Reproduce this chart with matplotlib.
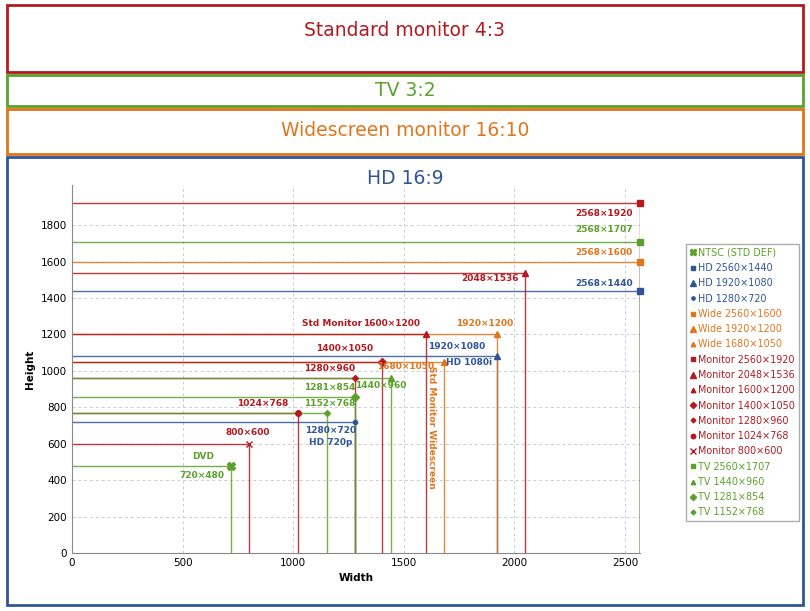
import matplotlib
matplotlib.use("Agg")
import matplotlib.pyplot as plt
from matplotlib.patches import Rectangle
from matplotlib.lines import Line2D

RED = "#b3191f"; BLUE = "#2f5597"; ORANGE = "#e0761c"; GREEN = "#5ba12b"

names = ["NTSC (STD DEF)", "HD 2560×1440", "HD 1920×1080", "HD 1280×720",
         "Wide 2560×1600", "Wide 1920×1200", "Wide 1680×1050",
         "Monitor 2560×1920", "Monitor 2048×1536", "Monitor 1600×1200",
         "Monitor 1400×1050", "Monitor 1280×960", "Monitor 1024×768", "Monitor 800×600",
         "TV 2560×1707", "TV 1440×960", "TV 1281×854", "TV 1152×768"]
widths = [720, 2568, 1920, 1280, 2568, 1920, 1680, 2568, 2048, 1600, 1400, 1280, 1024, 800,
          2568, 1440, 1281, 1152]
heights = [480, 1440, 1080, 720, 1600, 1200, 1050, 1920, 1536, 1200, 1050, 960, 768, 600,
           1707, 960, 854, 768]
colors = [GREEN, BLUE, BLUE, BLUE, ORANGE, ORANGE, ORANGE, RED, RED, RED, RED, RED, RED, RED,
          GREEN, GREEN, GREEN, GREEN]
markers = ["X", "s", "^", "o", "s", "^", "^", "s", "^", "^", "D", "D", "o", "x",
           "s", "^", "D", "D"]
msizes = [6, 4, 5, 3, 4, 5, 4, 4, 5, 4, 4, 3, 4, 5, 4, 4, 4, 3]

# annotation texts (x, y in data units, color, ha, rotation)
labels = [
    ("2568×1920", 2536, 1866, RED, "right", 0),
    ("2568×1707", 2536, 1773, GREEN, "right", 0),
    ("2568×1600", 2536, 1647, ORANGE, "right", 0),
    ("2048×1536", 2022, 1509, RED, "right", 0),
    ("2568×1440", 2536, 1482, BLUE, "right", 0),
    ("Std Monitor", 1178, 1262, RED, "center", 0),
    ("1600×1200", 1444, 1262, RED, "center", 0),
    ("1920×1200", 1864, 1262, ORANGE, "center", 0),
    ("1920×1080", 1737, 1131, BLUE, "center", 0),
    ("HD 1080i", 1796, 1048, BLUE, "center", 0),
    ("1400×1050", 1232, 1120, RED, "center", 0),
    ("1280×960", 1164, 1015, RED, "center", 0),
    ("1680×1050", 1507, 1021, ORANGE, "center", 0),
    ("Std Monitor Widescreen", 1625, 692, ORANGE, "center", 270),
    ("1440×960", 1394, 922, GREEN, "center", 0),
    ("1281×854", 1164, 911, GREEN, "center", 0),
    ("1152×768", 1164, 818, GREEN, "center", 0),
    ("1024×768", 862, 823, RED, "center", 0),
    ("1280×720", 1169, 675, BLUE, "center", 0),
    ("HD 720p", 1169, 609, BLUE, "center", 0),
    ("800×600", 794, 659, RED, "center", 0),
    ("DVD", 591, 532, GREEN, "center", 0),
    ("720×480", 587, 423, GREEN, "center", 0),
]

fig = plt.figure(figsize=(8.1, 6.11), dpi=100)
W, H = 810, 611
def box(y0, y1, color):
    fig.patches.append(Rectangle((7/W, 1 - y1/H), (803-7)/W, (y1-y0)/H, transform=fig.transFigure,
                                 fill=False, edgecolor=color, lw=2))
box(5, 72, RED); box(75, 106, GREEN); box(109, 154, ORANGE); box(157, 605, BLUE)
fig.text(405/W, 1-31/H, "Standard monitor 4:3", color=RED, fontsize=13.5, ha="center", va="center")
fig.text(405/W, 1-90/H, "TV 3:2", color=GREEN, fontsize=13.5, ha="center", va="center")
fig.text(405/W, 1-131/H, "Widescreen monitor 16:10", color=ORANGE, fontsize=13.5, ha="center", va="center")
fig.text(405/W, 1-178/H, "HD 16:9", color=BLUE, fontsize=13.5, ha="center", va="center")

ax = fig.add_axes([72/W, 1-553/H, (640-72)/W, (553-185)/H])
ax.set_xlim(0, 2568); ax.set_ylim(0, 2020)
ax.set_xticks([0, 500, 1000, 1500, 2000, 2500])
ax.set_yticks(range(0, 2000, 200))
ax.grid(True, ls=(0, (3, 3)), color="#cccccc", lw=0.7)
for s in ["top", "right"]:
    ax.spines[s].set_visible(False)
for s in ["left", "bottom"]:
    ax.spines[s].set_color("#888888")
ax.tick_params(labelsize=7.5, length=0)
ax.set_xlabel("Width", fontsize=7.5, fontweight="bold")
ax.set_ylabel("Height", fontsize=7.5, fontweight="bold")

handles = []
for n, w, h, c, m, ms in zip(names, widths, heights, colors, markers, msizes):
    ax.plot([0, w], [h, h], color=c, lw=1, alpha=0.85, zorder=2)
    ax.plot([w, w], [0, h], color=c, lw=1, alpha=0.85, zorder=2)
    ax.plot([w], [h], marker=m, color=c, ms=ms, ls="none", zorder=3, clip_on=False)
    handles.append(Line2D([], [], marker=m, color=c, ms=ms * 0.8, ls="none", label=n))

for t, x, y, c, ha, rot in labels:
    ax.text(x, y, t, color=c, ha=ha, va="center", fontsize=6.5, fontweight="bold", rotation=rot)

leg = fig.legend(handles=handles, loc="upper left", bbox_to_anchor=(686/W, 1-244/H),
                 fontsize=6.9, frameon=True, fancybox=False, handletextpad=0.15,
                 handlelength=0.7, labelspacing=0.55, borderpad=0.4, borderaxespad=0)
leg.get_frame().set_edgecolor("#999999")
for txt, c in zip(leg.get_texts(), colors):
    txt.set_color(c)

fig.savefig("out.png", dpi=100)
